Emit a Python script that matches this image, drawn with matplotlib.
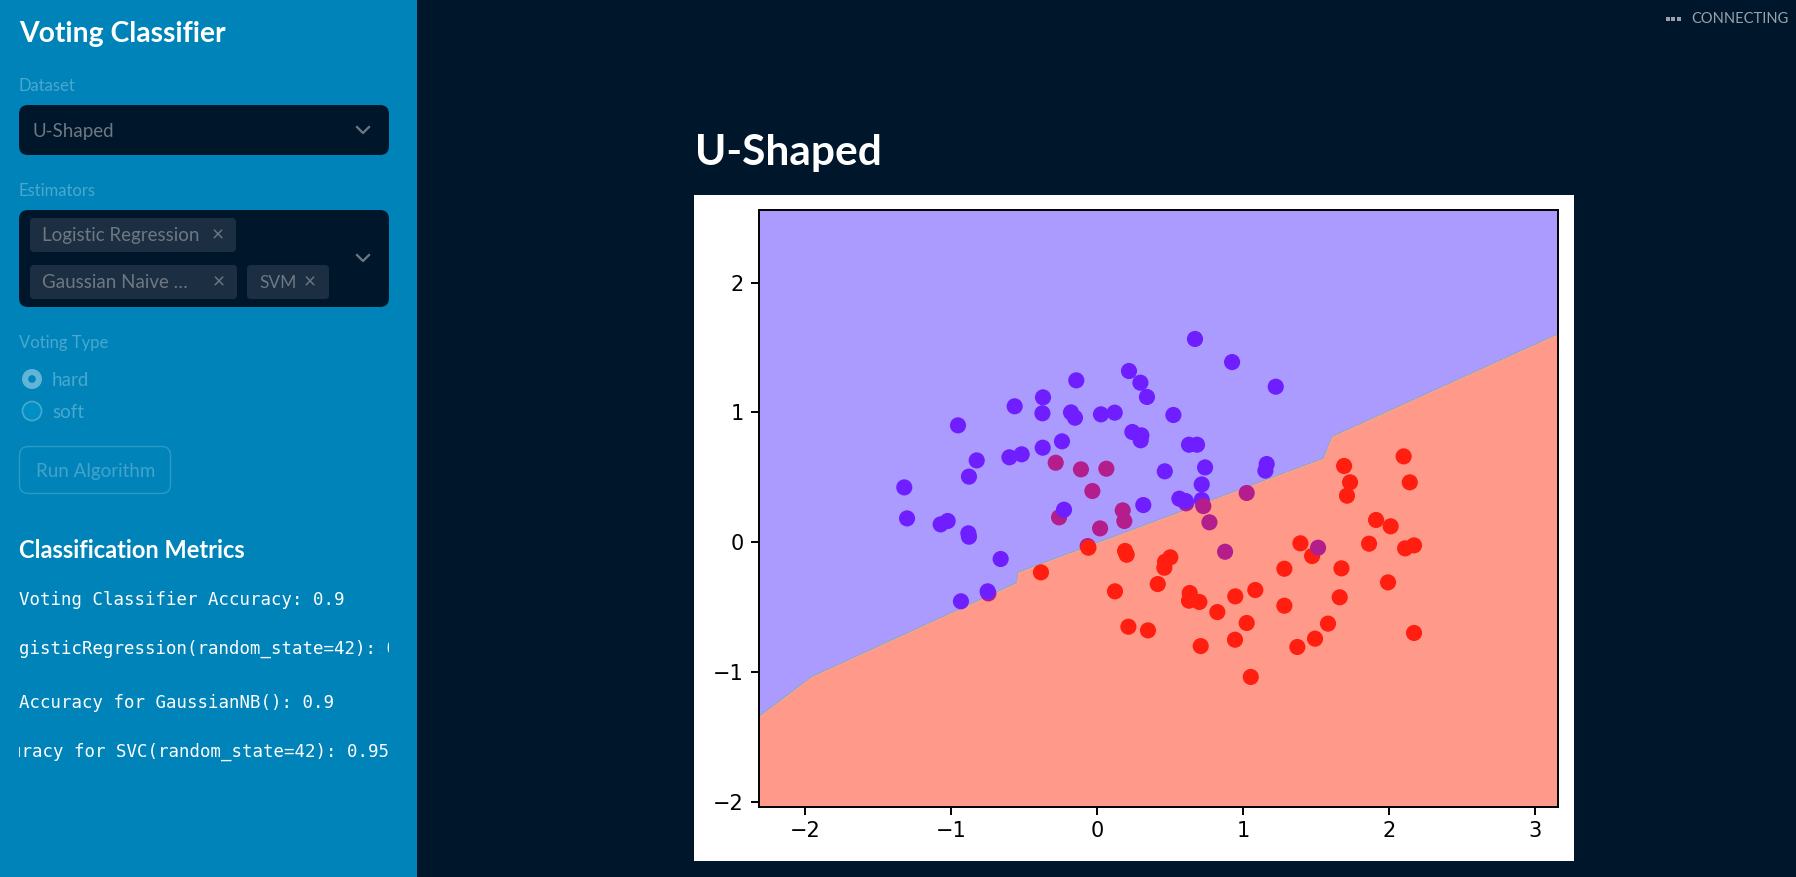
#!/usr/bin/env python3
"""Voting classifier app screenshot: sidebar plus decision region chart."""
import numpy as np
import matplotlib
matplotlib.use("Agg")
import matplotlib.pyplot as plt
from matplotlib.colors import ListedColormap
from matplotlib.patches import FancyBboxPatch, Circle, Rectangle

# label 0 = purple, 1 = red, 2 = magenta (draw order matters, overlaps)
magenta_x = [-0.283, -0.110, 0.064, -0.032, -0.260, 0.176, 0.187, 0.021, -0.064, -0.744, 0.610, 1.025, 0.770, 0.877]
magenta_y = [0.611, 0.560, 0.565, 0.393, 0.190, 0.244, 0.162, 0.105, -0.031, -0.396, 0.298, 0.378, 0.152, -0.075]

purple_x = [-0.142, 0.219, -0.370, -0.564, -0.374, -0.178, -0.151, 0.027, 0.121, -0.952, 0.242, -0.240, -0.372,
            -0.516, -0.600, -0.824, -0.877, -1.320, -1.301, -1.023, -1.071, -0.881, -0.877, -0.226, -0.660, -0.749,
            -0.932, 0.671, 0.925, 1.224, 0.297, 0.342, 0.523, 0.304, 0.299, 0.630, 0.685, 0.740, 0.464, 1.162, 1.153,
            0.717, 0.564, 0.607, 0.317, 0.717]
purple_y = [1.246, 1.318, 1.115, 1.046, 0.992, 0.999, 0.958, 0.984, 0.997, 0.899, 0.848, 0.776, 0.727,
            0.676, 0.653, 0.629, 0.504, 0.421, 0.182, 0.162, 0.136, 0.067, 0.041, 0.249, -0.131, -0.380,
            -0.457, 1.565, 1.387, 1.197, 1.228, 1.118, 0.979, 0.822, 0.784, 0.750, 0.750, 0.575, 0.545, 0.601, 0.550,
            0.444, 0.334, 0.316, 0.285, 0.324]

red_x = [-0.384, -0.059, 0.192, 0.203, 0.123, 0.215, 0.349, 0.416, 0.461, 0.466, 0.502, 0.635, 0.630, 0.701, 0.824,
         0.947, 1.084, 1.025, 0.945, 0.710, 1.053, 1.283, 1.283, 1.393, 1.473, 1.674, 1.662, 1.582, 1.493, 1.372,
         1.692, 1.733, 1.712, 2.100, 2.142, 1.911, 2.011, 1.863, 2.110, 2.171, 1.993, 2.171]
red_y = [-0.234, -0.044, -0.069, -0.098, -0.380, -0.653, -0.681, -0.324, -0.198, -0.152, -0.118, -0.393, -0.452,
         -0.462, -0.540, -0.419, -0.370, -0.624, -0.753, -0.802, -1.040, -0.206, -0.491, -0.010, -0.108, -0.203,
         -0.426, -0.629, -0.745, -0.809, 0.586, 0.460, 0.357, 0.660, 0.460, 0.170, 0.121, -0.013, -0.049, -0.026,
         -0.311, -0.701]

# these two sit on top of their neighbours
top_x = [0.728, 1.514]
top_y = [0.277, -0.044]

boundary_x = [-2.317, -1.954, -0.550, -0.543, 1.550, 1.608, 3.155]
boundary_y = [-1.346, -1.038, -0.314, -0.234, 0.645, 0.812, 1.603]

x_ticks = [-2, -1, 0, 1, 2, 3]
y_ticks = [-2, -1, 0, 1, 2]

# text as scrolled inside the sidebar, only the visible part
metric_lines = ["Voting Classifier Accuracy: 0.9",
                "gisticRegression(random_state=42): 0",
                "Accuracy for GaussianNB(): 0.9",
                "uracy for SVC(random_state=42): 0.95"]
metric_left = [19, 19, 19, 11.4]
metric_cy = [600, 648.5, 703.5, 751.5]

SIDEBAR = "#0083B8"
MAIN = "#00172B"
CHIP = "#1C2E42"
MUTED = "#4AA8CF"
FADED = "#6E7883"
UI_FONT = "Lato"
MONO_FONT = "DejaVu Sans Mono"

W, H = 1796, 877
fig = plt.figure(figsize=(W / 100, H / 100), dpi=100, facecolor=MAIN)

# page axes in screen pixels, y down
ui = fig.add_axes([0, 0, 1, 1])
ui.set_xlim(0, W)
ui.set_ylim(H, 0)
ui.axis("off")


def box(x0, y0, x1, y1, face, edge="none", radius=9, lw=1.0):
    ui.add_patch(FancyBboxPatch((x0, y0), x1 - x0, y1 - y0, boxstyle=f"round,pad=0,rounding_size={radius}",
                                facecolor=face, edgecolor=edge, linewidth=lw))


def label(x, cy, s, color, size=11.5, weight="normal", family=UI_FONT, ha="left"):
    return ui.text(x, cy, s, color=color, fontsize=size, fontweight=weight, family=family, ha=ha, va="center")


def chevron(cx, cy):
    ui.plot([cx - 6, cx, cx + 6], [cy - 3, cy + 3, cy - 3], color=FADED, lw=1.6)


ui.add_patch(Rectangle((0, 0), 417, H, facecolor=SIDEBAR, edgecolor="none"))

label(19, 34, "Voting Classifier", "white", size=20.3, weight="bold")

label(19, 86, "Dataset", MUTED, size=12)
box(19, 105, 389, 155, MAIN)
label(33, 131, "U-Shaped", FADED, size=13.5)
chevron(363, 130)

label(19, 191, "Estimators", MUTED, size=12)
box(19, 210, 389, 307, MAIN)
box(30, 218, 236, 252, CHIP, radius=4)
box(30, 265, 237, 299, CHIP, radius=4)
box(247, 265, 329, 299, CHIP, radius=4)
label(42.5, 236, "Logistic Regression", FADED, size=13.5)
label(42.5, 283, "Gaussian Naive \u2026", FADED, size=13.5)
label(259, 283, "SVM", FADED, size=12.5)
for cx, cy in [(218, 235), (218.5, 282), (310, 282)]:
    label(cx, cy, "\u00d7", FADED, size=15, ha="center")
chevron(363, 258)

label(19, 343, "Voting Type", MUTED, size=12)
ui.add_patch(Circle((32, 379), 10, facecolor="#5FB4D8", edgecolor="none"))
ui.add_patch(Circle((32, 379), 3.8, facecolor=SIDEBAR, edgecolor="none"))
ui.add_patch(Circle((32, 411), 9.5, facecolor="#0090C6", edgecolor="#4AA8CF", linewidth=1.2))
label(52, 380, "hard", MUTED, size=13.5)
label(52, 412, "soft", MUTED, size=13.5)

box(19.5, 446.5, 170.5, 493.5, SIDEBAR, edge="#2C9AC6")
label(36, 471, "Run Algorithm", "#45A2CB", size=13.5)

label(19, 550, "Classification Metrics", "white", size=17, weight="bold")
clip = Rectangle((19, 0), 370, H, transform=ui.transData, facecolor="none", edgecolor="none")
ui.add_patch(clip)
for left, cy, line in zip(metric_left, metric_cy, metric_lines):
    t = label(left, cy, line, "white", size=12.5, family=MONO_FONT)
    t.set_clip_path(clip)
    t.set_clip_on(True)

label(695, 153, "U-Shaped", "white", size=30.5, weight="bold")

label(1691, 19, "CONNECTING", "#97A3AF", size=10.5)
for dot_x in [1665.5, 1671, 1676.5]:
    ui.add_patch(Rectangle((dot_x, 17), 4, 4, facecolor="#9AA0AA", edgecolor="none"))

# the pasted matplotlib figure
ui.add_patch(Rectangle((694, 195), 880, 666, facecolor="white", edgecolor="none"))

ax = fig.add_axes([758.7 / W, 1 - 806.7 / H, (1557.7 - 758.7) / W, (806.7 - 210) / H])
ax.set_xlim(-2.317, 3.155)
ax.set_ylim(-2.04, 2.559)
ylim = ax.get_ylim()
ax.fill_between(boundary_x, boundary_y, ylim[1], color="#AC9BFF", lw=0)
ax.fill_between(boundary_x, ylim[0], boundary_y, color="#FF9989", lw=0)
ax.plot(boundary_x, boundary_y, color="#9AA88C", lw=0.6)

pts_x = np.array(magenta_x + purple_x + red_x + top_x)
pts_y = np.array(magenta_y + purple_y + red_y + top_y)
pts_c = np.array([2] * len(magenta_x) + [0] * len(purple_x) + [1] * len(red_x) + [2] * len(top_x))
dots = ListedColormap(["#6E1EFF", "#FF1E0F", "#B41E8C"])
ax.scatter(pts_x, pts_y, c=pts_c, cmap=dots, vmin=0, vmax=2, s=135, linewidths=0, zorder=3)

ax.set_xticks(x_ticks)
ax.set_yticks(y_ticks)
ax.tick_params(labelsize=15, length=5.8, width=1.4, pad=4.8, colors="black")
for spine in ax.spines.values():
    spine.set_linewidth(1.4)

fig.savefig("out.png", dpi=100, facecolor=MAIN)
